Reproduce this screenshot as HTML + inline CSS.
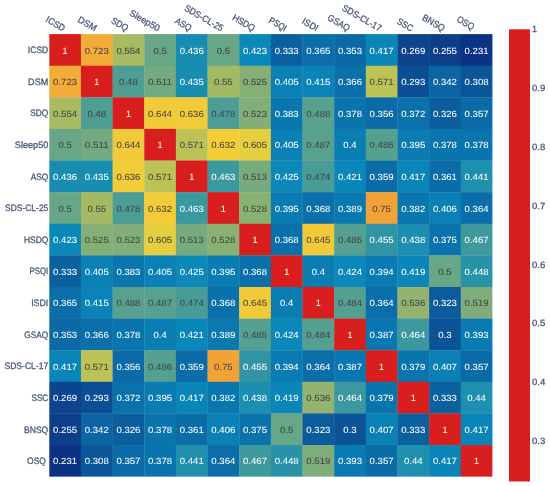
<!DOCTYPE html><html><head><meta charset="utf-8"><style>html,body{margin:0;padding:0;background:#fff;width:550px;height:486px;overflow:hidden}svg{display:block}text{font-family:"Liberation Sans",Arial,sans-serif;text-rendering:geometricPrecision}.lb text{stroke:#4a5a78;stroke-width:0.3px} .ct text{stroke-width:0.05px}</style></head><body>
<svg width="550" height="486" viewBox="0 0 550 486">
<rect x="0" y="0" width="550" height="486" fill="#fff"/>
<rect x="49.30" y="34.10" width="31.95" height="31.91" fill="rgb(217,30,30)"/>
<rect x="80.95" y="34.10" width="31.95" height="31.91" fill="rgb(242,173,56)"/>
<rect x="112.60" y="34.10" width="31.95" height="31.91" fill="rgb(168,187,98)"/>
<rect x="144.25" y="34.10" width="31.95" height="31.91" fill="rgb(103,166,134)"/>
<rect x="175.90" y="34.10" width="31.95" height="31.91" fill="rgb(25,141,177)"/>
<rect x="207.55" y="34.10" width="31.95" height="31.91" fill="rgb(103,166,134)"/>
<rect x="239.20" y="34.10" width="31.95" height="31.91" fill="rgb(10,136,186)"/>
<rect x="270.85" y="34.10" width="31.95" height="31.91" fill="rgb(11,96,160)"/>
<rect x="302.50" y="34.10" width="31.95" height="31.91" fill="rgb(11,110,169)"/>
<rect x="334.15" y="34.10" width="31.95" height="31.91" fill="rgb(11,105,166)"/>
<rect x="365.80" y="34.10" width="31.95" height="31.91" fill="rgb(10,133,184)"/>
<rect x="397.45" y="34.10" width="31.95" height="31.91" fill="rgb(12,68,142)"/>
<rect x="429.10" y="34.10" width="31.95" height="31.91" fill="rgb(12,62,138)"/>
<rect x="460.75" y="34.10" width="31.65" height="31.91" fill="rgb(12,51,131)"/>
<rect x="49.30" y="65.71" width="31.95" height="31.91" fill="rgb(242,173,56)"/>
<rect x="80.95" y="65.71" width="31.95" height="31.91" fill="rgb(217,30,30)"/>
<rect x="112.60" y="65.71" width="31.95" height="31.91" fill="rgb(78,158,148)"/>
<rect x="144.25" y="65.71" width="31.95" height="31.91" fill="rgb(116,170,127)"/>
<rect x="175.90" y="65.71" width="31.95" height="31.91" fill="rgb(24,141,178)"/>
<rect x="207.55" y="65.71" width="31.95" height="31.91" fill="rgb(163,185,100)"/>
<rect x="239.20" y="65.71" width="31.95" height="31.91" fill="rgb(133,176,117)"/>
<rect x="270.85" y="65.71" width="31.95" height="31.91" fill="rgb(10,128,181)"/>
<rect x="302.50" y="65.71" width="31.95" height="31.91" fill="rgb(10,132,184)"/>
<rect x="334.15" y="65.71" width="31.95" height="31.91" fill="rgb(11,111,170)"/>
<rect x="365.80" y="65.71" width="31.95" height="31.91" fill="rgb(188,194,86)"/>
<rect x="397.45" y="65.71" width="31.95" height="31.91" fill="rgb(11,78,149)"/>
<rect x="429.10" y="65.71" width="31.95" height="31.91" fill="rgb(11,100,163)"/>
<rect x="460.75" y="65.71" width="31.65" height="31.91" fill="rgb(11,85,153)"/>
<rect x="49.30" y="97.32" width="31.95" height="31.91" fill="rgb(168,187,98)"/>
<rect x="80.95" y="97.32" width="31.95" height="31.91" fill="rgb(78,158,148)"/>
<rect x="112.60" y="97.32" width="31.95" height="31.91" fill="rgb(217,30,30)"/>
<rect x="144.25" y="97.32" width="31.95" height="31.91" fill="rgb(242,201,56)"/>
<rect x="175.90" y="97.32" width="31.95" height="31.91" fill="rgb(242,204,56)"/>
<rect x="207.55" y="97.32" width="31.95" height="31.91" fill="rgb(76,157,149)"/>
<rect x="239.20" y="97.32" width="31.95" height="31.91" fill="rgb(130,175,119)"/>
<rect x="270.85" y="97.32" width="31.95" height="31.91" fill="rgb(10,118,174)"/>
<rect x="302.50" y="97.32" width="31.95" height="31.91" fill="rgb(88,161,142)"/>
<rect x="334.15" y="97.32" width="31.95" height="31.91" fill="rgb(10,116,173)"/>
<rect x="365.80" y="97.32" width="31.95" height="31.91" fill="rgb(11,106,167)"/>
<rect x="397.45" y="97.32" width="31.95" height="31.91" fill="rgb(11,113,171)"/>
<rect x="429.10" y="97.32" width="31.95" height="31.91" fill="rgb(11,93,158)"/>
<rect x="460.75" y="97.32" width="31.65" height="31.91" fill="rgb(11,107,167)"/>
<rect x="49.30" y="128.93" width="31.95" height="31.91" fill="rgb(103,166,134)"/>
<rect x="80.95" y="128.93" width="31.95" height="31.91" fill="rgb(116,170,127)"/>
<rect x="112.60" y="128.93" width="31.95" height="31.91" fill="rgb(242,201,56)"/>
<rect x="144.25" y="128.93" width="31.95" height="31.91" fill="rgb(217,30,30)"/>
<rect x="175.90" y="128.93" width="31.95" height="31.91" fill="rgb(188,194,86)"/>
<rect x="207.55" y="128.93" width="31.95" height="31.91" fill="rgb(242,205,56)"/>
<rect x="239.20" y="128.93" width="31.95" height="31.91" fill="rgb(229,207,63)"/>
<rect x="270.85" y="128.93" width="31.95" height="31.91" fill="rgb(10,128,181)"/>
<rect x="302.50" y="128.93" width="31.95" height="31.91" fill="rgb(87,161,143)"/>
<rect x="334.15" y="128.93" width="31.95" height="31.91" fill="rgb(10,126,179)"/>
<rect x="365.80" y="128.93" width="31.95" height="31.91" fill="rgb(86,160,144)"/>
<rect x="397.45" y="128.93" width="31.95" height="31.91" fill="rgb(10,124,178)"/>
<rect x="429.10" y="128.93" width="31.95" height="31.91" fill="rgb(10,116,173)"/>
<rect x="460.75" y="128.93" width="31.65" height="31.91" fill="rgb(10,116,173)"/>
<rect x="49.30" y="160.54" width="31.95" height="31.91" fill="rgb(25,141,177)"/>
<rect x="80.95" y="160.54" width="31.95" height="31.91" fill="rgb(24,141,178)"/>
<rect x="112.60" y="160.54" width="31.95" height="31.91" fill="rgb(242,204,56)"/>
<rect x="144.25" y="160.54" width="31.95" height="31.91" fill="rgb(188,194,86)"/>
<rect x="175.90" y="160.54" width="31.95" height="31.91" fill="rgb(217,30,30)"/>
<rect x="207.55" y="160.54" width="31.95" height="31.91" fill="rgb(58,152,159)"/>
<rect x="239.20" y="160.54" width="31.95" height="31.91" fill="rgb(118,171,125)"/>
<rect x="270.85" y="160.54" width="31.95" height="31.91" fill="rgb(12,137,185)"/>
<rect x="302.50" y="160.54" width="31.95" height="31.91" fill="rgb(71,156,152)"/>
<rect x="334.15" y="160.54" width="31.95" height="31.91" fill="rgb(10,135,185)"/>
<rect x="365.80" y="160.54" width="31.95" height="31.91" fill="rgb(11,108,168)"/>
<rect x="397.45" y="160.54" width="31.95" height="31.91" fill="rgb(10,133,184)"/>
<rect x="429.10" y="160.54" width="31.95" height="31.91" fill="rgb(11,108,168)"/>
<rect x="460.75" y="160.54" width="31.65" height="31.91" fill="rgb(31,143,174)"/>
<rect x="49.30" y="192.15" width="31.95" height="31.91" fill="rgb(103,166,134)"/>
<rect x="80.95" y="192.15" width="31.95" height="31.91" fill="rgb(163,185,100)"/>
<rect x="112.60" y="192.15" width="31.95" height="31.91" fill="rgb(76,157,149)"/>
<rect x="144.25" y="192.15" width="31.95" height="31.91" fill="rgb(242,205,56)"/>
<rect x="175.90" y="192.15" width="31.95" height="31.91" fill="rgb(58,152,159)"/>
<rect x="207.55" y="192.15" width="31.95" height="31.91" fill="rgb(217,30,30)"/>
<rect x="239.20" y="192.15" width="31.95" height="31.91" fill="rgb(136,177,115)"/>
<rect x="270.85" y="192.15" width="31.95" height="31.91" fill="rgb(10,124,178)"/>
<rect x="302.50" y="192.15" width="31.95" height="31.91" fill="rgb(11,112,170)"/>
<rect x="334.15" y="192.15" width="31.95" height="31.91" fill="rgb(10,121,176)"/>
<rect x="365.80" y="192.15" width="31.95" height="31.91" fill="rgb(242,163,56)"/>
<rect x="397.45" y="192.15" width="31.95" height="31.91" fill="rgb(10,118,174)"/>
<rect x="429.10" y="192.15" width="31.95" height="31.91" fill="rgb(10,128,181)"/>
<rect x="460.75" y="192.15" width="31.65" height="31.91" fill="rgb(11,110,169)"/>
<rect x="49.30" y="223.76" width="31.95" height="31.91" fill="rgb(10,136,186)"/>
<rect x="80.95" y="223.76" width="31.95" height="31.91" fill="rgb(133,176,117)"/>
<rect x="112.60" y="223.76" width="31.95" height="31.91" fill="rgb(130,175,119)"/>
<rect x="144.25" y="223.76" width="31.95" height="31.91" fill="rgb(229,207,63)"/>
<rect x="175.90" y="223.76" width="31.95" height="31.91" fill="rgb(118,171,125)"/>
<rect x="207.55" y="223.76" width="31.95" height="31.91" fill="rgb(136,177,115)"/>
<rect x="239.20" y="223.76" width="31.95" height="31.91" fill="rgb(217,30,30)"/>
<rect x="270.85" y="223.76" width="31.95" height="31.91" fill="rgb(11,112,170)"/>
<rect x="302.50" y="223.76" width="31.95" height="31.91" fill="rgb(242,201,56)"/>
<rect x="334.15" y="223.76" width="31.95" height="31.91" fill="rgb(85,160,144)"/>
<rect x="365.80" y="223.76" width="31.95" height="31.91" fill="rgb(48,148,165)"/>
<rect x="397.45" y="223.76" width="31.95" height="31.91" fill="rgb(28,142,176)"/>
<rect x="429.10" y="223.76" width="31.95" height="31.91" fill="rgb(11,115,172)"/>
<rect x="460.75" y="223.76" width="31.65" height="31.91" fill="rgb(63,153,156)"/>
<rect x="49.30" y="255.37" width="31.95" height="31.91" fill="rgb(11,96,160)"/>
<rect x="80.95" y="255.37" width="31.95" height="31.91" fill="rgb(10,128,181)"/>
<rect x="112.60" y="255.37" width="31.95" height="31.91" fill="rgb(10,118,174)"/>
<rect x="144.25" y="255.37" width="31.95" height="31.91" fill="rgb(10,128,181)"/>
<rect x="175.90" y="255.37" width="31.95" height="31.91" fill="rgb(12,137,185)"/>
<rect x="207.55" y="255.37" width="31.95" height="31.91" fill="rgb(10,124,178)"/>
<rect x="239.20" y="255.37" width="31.95" height="31.91" fill="rgb(11,112,170)"/>
<rect x="270.85" y="255.37" width="31.95" height="31.91" fill="rgb(217,30,30)"/>
<rect x="302.50" y="255.37" width="31.95" height="31.91" fill="rgb(10,126,179)"/>
<rect x="334.15" y="255.37" width="31.95" height="31.91" fill="rgb(11,136,185)"/>
<rect x="365.80" y="255.37" width="31.95" height="31.91" fill="rgb(10,123,178)"/>
<rect x="397.45" y="255.37" width="31.95" height="31.91" fill="rgb(10,134,185)"/>
<rect x="429.10" y="255.37" width="31.95" height="31.91" fill="rgb(103,166,134)"/>
<rect x="460.75" y="255.37" width="31.65" height="31.91" fill="rgb(40,146,169)"/>
<rect x="49.30" y="286.98" width="31.95" height="31.91" fill="rgb(11,110,169)"/>
<rect x="80.95" y="286.98" width="31.95" height="31.91" fill="rgb(10,132,184)"/>
<rect x="112.60" y="286.98" width="31.95" height="31.91" fill="rgb(88,161,142)"/>
<rect x="144.25" y="286.98" width="31.95" height="31.91" fill="rgb(87,161,143)"/>
<rect x="175.90" y="286.98" width="31.95" height="31.91" fill="rgb(71,156,152)"/>
<rect x="207.55" y="286.98" width="31.95" height="31.91" fill="rgb(11,112,170)"/>
<rect x="239.20" y="286.98" width="31.95" height="31.91" fill="rgb(242,201,56)"/>
<rect x="270.85" y="286.98" width="31.95" height="31.91" fill="rgb(10,126,179)"/>
<rect x="302.50" y="286.98" width="31.95" height="31.91" fill="rgb(217,30,30)"/>
<rect x="334.15" y="286.98" width="31.95" height="31.91" fill="rgb(83,160,145)"/>
<rect x="365.80" y="286.98" width="31.95" height="31.91" fill="rgb(11,110,169)"/>
<rect x="397.45" y="286.98" width="31.95" height="31.91" fill="rgb(146,180,110)"/>
<rect x="429.10" y="286.98" width="31.95" height="31.91" fill="rgb(11,92,157)"/>
<rect x="460.75" y="286.98" width="31.65" height="31.91" fill="rgb(126,173,121)"/>
<rect x="49.30" y="318.59" width="31.95" height="31.91" fill="rgb(11,105,166)"/>
<rect x="80.95" y="318.59" width="31.95" height="31.91" fill="rgb(11,111,170)"/>
<rect x="112.60" y="318.59" width="31.95" height="31.91" fill="rgb(10,116,173)"/>
<rect x="144.25" y="318.59" width="31.95" height="31.91" fill="rgb(10,126,179)"/>
<rect x="175.90" y="318.59" width="31.95" height="31.91" fill="rgb(10,135,185)"/>
<rect x="207.55" y="318.59" width="31.95" height="31.91" fill="rgb(10,121,176)"/>
<rect x="239.20" y="318.59" width="31.95" height="31.91" fill="rgb(85,160,144)"/>
<rect x="270.85" y="318.59" width="31.95" height="31.91" fill="rgb(11,136,185)"/>
<rect x="302.50" y="318.59" width="31.95" height="31.91" fill="rgb(83,160,145)"/>
<rect x="334.15" y="318.59" width="31.95" height="31.91" fill="rgb(217,30,30)"/>
<rect x="365.80" y="318.59" width="31.95" height="31.91" fill="rgb(10,120,176)"/>
<rect x="397.45" y="318.59" width="31.95" height="31.91" fill="rgb(59,152,158)"/>
<rect x="429.10" y="318.59" width="31.95" height="31.91" fill="rgb(11,82,151)"/>
<rect x="460.75" y="318.59" width="31.65" height="31.91" fill="rgb(10,123,177)"/>
<rect x="49.30" y="350.20" width="31.95" height="31.91" fill="rgb(10,133,184)"/>
<rect x="80.95" y="350.20" width="31.95" height="31.91" fill="rgb(188,194,86)"/>
<rect x="112.60" y="350.20" width="31.95" height="31.91" fill="rgb(11,106,167)"/>
<rect x="144.25" y="350.20" width="31.95" height="31.91" fill="rgb(86,160,144)"/>
<rect x="175.90" y="350.20" width="31.95" height="31.91" fill="rgb(11,108,168)"/>
<rect x="207.55" y="350.20" width="31.95" height="31.91" fill="rgb(242,163,56)"/>
<rect x="239.20" y="350.20" width="31.95" height="31.91" fill="rgb(48,148,165)"/>
<rect x="270.85" y="350.20" width="31.95" height="31.91" fill="rgb(10,123,178)"/>
<rect x="302.50" y="350.20" width="31.95" height="31.91" fill="rgb(11,110,169)"/>
<rect x="334.15" y="350.20" width="31.95" height="31.91" fill="rgb(10,120,176)"/>
<rect x="365.80" y="350.20" width="31.95" height="31.91" fill="rgb(217,30,30)"/>
<rect x="397.45" y="350.20" width="31.95" height="31.91" fill="rgb(10,116,173)"/>
<rect x="429.10" y="350.20" width="31.95" height="31.91" fill="rgb(10,129,181)"/>
<rect x="460.75" y="350.20" width="31.65" height="31.91" fill="rgb(11,107,167)"/>
<rect x="49.30" y="381.81" width="31.95" height="31.91" fill="rgb(12,68,142)"/>
<rect x="80.95" y="381.81" width="31.95" height="31.91" fill="rgb(11,78,149)"/>
<rect x="112.60" y="381.81" width="31.95" height="31.91" fill="rgb(11,113,171)"/>
<rect x="144.25" y="381.81" width="31.95" height="31.91" fill="rgb(10,124,178)"/>
<rect x="175.90" y="381.81" width="31.95" height="31.91" fill="rgb(10,133,184)"/>
<rect x="207.55" y="381.81" width="31.95" height="31.91" fill="rgb(10,118,174)"/>
<rect x="239.20" y="381.81" width="31.95" height="31.91" fill="rgb(28,142,176)"/>
<rect x="270.85" y="381.81" width="31.95" height="31.91" fill="rgb(10,134,185)"/>
<rect x="302.50" y="381.81" width="31.95" height="31.91" fill="rgb(146,180,110)"/>
<rect x="334.15" y="381.81" width="31.95" height="31.91" fill="rgb(59,152,158)"/>
<rect x="365.80" y="381.81" width="31.95" height="31.91" fill="rgb(10,116,173)"/>
<rect x="397.45" y="381.81" width="31.95" height="31.91" fill="rgb(217,30,30)"/>
<rect x="429.10" y="381.81" width="31.95" height="31.91" fill="rgb(11,96,160)"/>
<rect x="460.75" y="381.81" width="31.65" height="31.91" fill="rgb(30,143,175)"/>
<rect x="49.30" y="413.42" width="31.95" height="31.91" fill="rgb(12,62,138)"/>
<rect x="80.95" y="413.42" width="31.95" height="31.91" fill="rgb(11,100,163)"/>
<rect x="112.60" y="413.42" width="31.95" height="31.91" fill="rgb(11,93,158)"/>
<rect x="144.25" y="413.42" width="31.95" height="31.91" fill="rgb(10,116,173)"/>
<rect x="175.90" y="413.42" width="31.95" height="31.91" fill="rgb(11,108,168)"/>
<rect x="207.55" y="413.42" width="31.95" height="31.91" fill="rgb(10,128,181)"/>
<rect x="239.20" y="413.42" width="31.95" height="31.91" fill="rgb(11,115,172)"/>
<rect x="270.85" y="413.42" width="31.95" height="31.91" fill="rgb(103,166,134)"/>
<rect x="302.50" y="413.42" width="31.95" height="31.91" fill="rgb(11,92,157)"/>
<rect x="334.15" y="413.42" width="31.95" height="31.91" fill="rgb(11,82,151)"/>
<rect x="365.80" y="413.42" width="31.95" height="31.91" fill="rgb(10,129,181)"/>
<rect x="397.45" y="413.42" width="31.95" height="31.91" fill="rgb(11,96,160)"/>
<rect x="429.10" y="413.42" width="31.95" height="31.91" fill="rgb(217,30,30)"/>
<rect x="460.75" y="413.42" width="31.65" height="31.91" fill="rgb(10,133,184)"/>
<rect x="49.30" y="445.03" width="31.95" height="31.61" fill="rgb(12,51,131)"/>
<rect x="80.95" y="445.03" width="31.95" height="31.61" fill="rgb(11,85,153)"/>
<rect x="112.60" y="445.03" width="31.95" height="31.61" fill="rgb(11,107,167)"/>
<rect x="144.25" y="445.03" width="31.95" height="31.61" fill="rgb(10,116,173)"/>
<rect x="175.90" y="445.03" width="31.95" height="31.61" fill="rgb(31,143,174)"/>
<rect x="207.55" y="445.03" width="31.95" height="31.61" fill="rgb(11,110,169)"/>
<rect x="239.20" y="445.03" width="31.95" height="31.61" fill="rgb(63,153,156)"/>
<rect x="270.85" y="445.03" width="31.95" height="31.61" fill="rgb(40,146,169)"/>
<rect x="302.50" y="445.03" width="31.95" height="31.61" fill="rgb(126,173,121)"/>
<rect x="334.15" y="445.03" width="31.95" height="31.61" fill="rgb(10,123,177)"/>
<rect x="365.80" y="445.03" width="31.95" height="31.61" fill="rgb(11,107,167)"/>
<rect x="397.45" y="445.03" width="31.95" height="31.61" fill="rgb(30,143,175)"/>
<rect x="429.10" y="445.03" width="31.95" height="31.61" fill="rgb(10,133,184)"/>
<rect x="460.75" y="445.03" width="31.65" height="31.61" fill="rgb(217,30,30)"/>
<g class="ct" font-size="9.0" text-anchor="middle" >
<text x="65.12" y="53.51" fill="#fff" stroke="#fff">1</text>
<text x="96.77" y="53.51" fill="#444" stroke="#444" textLength="24.00" lengthAdjust="spacingAndGlyphs">0.723</text>
<text x="128.43" y="53.51" fill="#444" stroke="#444" textLength="24.00" lengthAdjust="spacingAndGlyphs">0.554</text>
<text x="160.07" y="53.51" fill="#444" stroke="#444" textLength="13.25" lengthAdjust="spacingAndGlyphs">0.5</text>
<text x="191.72" y="53.51" fill="#fff" stroke="#fff" textLength="24.00" lengthAdjust="spacingAndGlyphs">0.436</text>
<text x="223.38" y="53.51" fill="#444" stroke="#444" textLength="13.25" lengthAdjust="spacingAndGlyphs">0.5</text>
<text x="255.02" y="53.51" fill="#fff" stroke="#fff" textLength="24.00" lengthAdjust="spacingAndGlyphs">0.423</text>
<text x="286.68" y="53.51" fill="#fff" stroke="#fff" textLength="24.00" lengthAdjust="spacingAndGlyphs">0.333</text>
<text x="318.32" y="53.51" fill="#fff" stroke="#fff" textLength="24.00" lengthAdjust="spacingAndGlyphs">0.365</text>
<text x="349.98" y="53.51" fill="#fff" stroke="#fff" textLength="24.00" lengthAdjust="spacingAndGlyphs">0.353</text>
<text x="381.62" y="53.51" fill="#fff" stroke="#fff" textLength="24.00" lengthAdjust="spacingAndGlyphs">0.417</text>
<text x="413.27" y="53.51" fill="#fff" stroke="#fff" textLength="24.00" lengthAdjust="spacingAndGlyphs">0.269</text>
<text x="444.93" y="53.51" fill="#fff" stroke="#fff" textLength="24.00" lengthAdjust="spacingAndGlyphs">0.255</text>
<text x="476.57" y="53.51" fill="#fff" stroke="#fff" textLength="24.00" lengthAdjust="spacingAndGlyphs">0.231</text>
<text x="65.12" y="85.11" fill="#444" stroke="#444" textLength="24.00" lengthAdjust="spacingAndGlyphs">0.723</text>
<text x="96.77" y="85.11" fill="#fff" stroke="#fff">1</text>
<text x="128.43" y="85.11" fill="#444" stroke="#444" textLength="18.63" lengthAdjust="spacingAndGlyphs">0.48</text>
<text x="160.07" y="85.11" fill="#444" stroke="#444" textLength="24.00" lengthAdjust="spacingAndGlyphs">0.511</text>
<text x="191.72" y="85.11" fill="#fff" stroke="#fff" textLength="24.00" lengthAdjust="spacingAndGlyphs">0.435</text>
<text x="223.38" y="85.11" fill="#444" stroke="#444" textLength="18.63" lengthAdjust="spacingAndGlyphs">0.55</text>
<text x="255.02" y="85.11" fill="#444" stroke="#444" textLength="24.00" lengthAdjust="spacingAndGlyphs">0.525</text>
<text x="286.68" y="85.11" fill="#fff" stroke="#fff" textLength="24.00" lengthAdjust="spacingAndGlyphs">0.405</text>
<text x="318.32" y="85.11" fill="#fff" stroke="#fff" textLength="24.00" lengthAdjust="spacingAndGlyphs">0.415</text>
<text x="349.98" y="85.11" fill="#fff" stroke="#fff" textLength="24.00" lengthAdjust="spacingAndGlyphs">0.366</text>
<text x="381.62" y="85.11" fill="#444" stroke="#444" textLength="24.00" lengthAdjust="spacingAndGlyphs">0.571</text>
<text x="413.27" y="85.11" fill="#fff" stroke="#fff" textLength="24.00" lengthAdjust="spacingAndGlyphs">0.293</text>
<text x="444.93" y="85.11" fill="#fff" stroke="#fff" textLength="24.00" lengthAdjust="spacingAndGlyphs">0.342</text>
<text x="476.57" y="85.11" fill="#fff" stroke="#fff" textLength="24.00" lengthAdjust="spacingAndGlyphs">0.308</text>
<text x="65.12" y="116.72" fill="#444" stroke="#444" textLength="24.00" lengthAdjust="spacingAndGlyphs">0.554</text>
<text x="96.77" y="116.72" fill="#444" stroke="#444" textLength="18.63" lengthAdjust="spacingAndGlyphs">0.48</text>
<text x="128.43" y="116.72" fill="#fff" stroke="#fff">1</text>
<text x="160.07" y="116.72" fill="#444" stroke="#444" textLength="24.00" lengthAdjust="spacingAndGlyphs">0.644</text>
<text x="191.72" y="116.72" fill="#444" stroke="#444" textLength="24.00" lengthAdjust="spacingAndGlyphs">0.636</text>
<text x="223.38" y="116.72" fill="#444" stroke="#444" textLength="24.00" lengthAdjust="spacingAndGlyphs">0.478</text>
<text x="255.02" y="116.72" fill="#444" stroke="#444" textLength="24.00" lengthAdjust="spacingAndGlyphs">0.523</text>
<text x="286.68" y="116.72" fill="#fff" stroke="#fff" textLength="24.00" lengthAdjust="spacingAndGlyphs">0.383</text>
<text x="318.32" y="116.72" fill="#444" stroke="#444" textLength="24.00" lengthAdjust="spacingAndGlyphs">0.488</text>
<text x="349.98" y="116.72" fill="#fff" stroke="#fff" textLength="24.00" lengthAdjust="spacingAndGlyphs">0.378</text>
<text x="381.62" y="116.72" fill="#fff" stroke="#fff" textLength="24.00" lengthAdjust="spacingAndGlyphs">0.356</text>
<text x="413.27" y="116.72" fill="#fff" stroke="#fff" textLength="24.00" lengthAdjust="spacingAndGlyphs">0.372</text>
<text x="444.93" y="116.72" fill="#fff" stroke="#fff" textLength="24.00" lengthAdjust="spacingAndGlyphs">0.326</text>
<text x="476.57" y="116.72" fill="#fff" stroke="#fff" textLength="24.00" lengthAdjust="spacingAndGlyphs">0.357</text>
<text x="65.12" y="148.33" fill="#444" stroke="#444" textLength="13.25" lengthAdjust="spacingAndGlyphs">0.5</text>
<text x="96.77" y="148.33" fill="#444" stroke="#444" textLength="24.00" lengthAdjust="spacingAndGlyphs">0.511</text>
<text x="128.43" y="148.33" fill="#444" stroke="#444" textLength="24.00" lengthAdjust="spacingAndGlyphs">0.644</text>
<text x="160.07" y="148.33" fill="#fff" stroke="#fff">1</text>
<text x="191.72" y="148.33" fill="#444" stroke="#444" textLength="24.00" lengthAdjust="spacingAndGlyphs">0.571</text>
<text x="223.38" y="148.33" fill="#444" stroke="#444" textLength="24.00" lengthAdjust="spacingAndGlyphs">0.632</text>
<text x="255.02" y="148.33" fill="#444" stroke="#444" textLength="24.00" lengthAdjust="spacingAndGlyphs">0.605</text>
<text x="286.68" y="148.33" fill="#fff" stroke="#fff" textLength="24.00" lengthAdjust="spacingAndGlyphs">0.405</text>
<text x="318.32" y="148.33" fill="#444" stroke="#444" textLength="24.00" lengthAdjust="spacingAndGlyphs">0.487</text>
<text x="349.98" y="148.33" fill="#fff" stroke="#fff" textLength="13.25" lengthAdjust="spacingAndGlyphs">0.4</text>
<text x="381.62" y="148.33" fill="#444" stroke="#444" textLength="24.00" lengthAdjust="spacingAndGlyphs">0.486</text>
<text x="413.27" y="148.33" fill="#fff" stroke="#fff" textLength="24.00" lengthAdjust="spacingAndGlyphs">0.395</text>
<text x="444.93" y="148.33" fill="#fff" stroke="#fff" textLength="24.00" lengthAdjust="spacingAndGlyphs">0.378</text>
<text x="476.57" y="148.33" fill="#fff" stroke="#fff" textLength="24.00" lengthAdjust="spacingAndGlyphs">0.378</text>
<text x="65.12" y="179.94" fill="#fff" stroke="#fff" textLength="24.00" lengthAdjust="spacingAndGlyphs">0.436</text>
<text x="96.77" y="179.94" fill="#fff" stroke="#fff" textLength="24.00" lengthAdjust="spacingAndGlyphs">0.435</text>
<text x="128.43" y="179.94" fill="#444" stroke="#444" textLength="24.00" lengthAdjust="spacingAndGlyphs">0.636</text>
<text x="160.07" y="179.94" fill="#444" stroke="#444" textLength="24.00" lengthAdjust="spacingAndGlyphs">0.571</text>
<text x="191.72" y="179.94" fill="#fff" stroke="#fff">1</text>
<text x="223.38" y="179.94" fill="#fff" stroke="#fff" textLength="24.00" lengthAdjust="spacingAndGlyphs">0.463</text>
<text x="255.02" y="179.94" fill="#444" stroke="#444" textLength="24.00" lengthAdjust="spacingAndGlyphs">0.513</text>
<text x="286.68" y="179.94" fill="#fff" stroke="#fff" textLength="24.00" lengthAdjust="spacingAndGlyphs">0.425</text>
<text x="318.32" y="179.94" fill="#444" stroke="#444" textLength="24.00" lengthAdjust="spacingAndGlyphs">0.474</text>
<text x="349.98" y="179.94" fill="#fff" stroke="#fff" textLength="24.00" lengthAdjust="spacingAndGlyphs">0.421</text>
<text x="381.62" y="179.94" fill="#fff" stroke="#fff" textLength="24.00" lengthAdjust="spacingAndGlyphs">0.359</text>
<text x="413.27" y="179.94" fill="#fff" stroke="#fff" textLength="24.00" lengthAdjust="spacingAndGlyphs">0.417</text>
<text x="444.93" y="179.94" fill="#fff" stroke="#fff" textLength="24.00" lengthAdjust="spacingAndGlyphs">0.361</text>
<text x="476.57" y="179.94" fill="#fff" stroke="#fff" textLength="24.00" lengthAdjust="spacingAndGlyphs">0.441</text>
<text x="65.12" y="211.55" fill="#444" stroke="#444" textLength="13.25" lengthAdjust="spacingAndGlyphs">0.5</text>
<text x="96.77" y="211.55" fill="#444" stroke="#444" textLength="18.63" lengthAdjust="spacingAndGlyphs">0.55</text>
<text x="128.43" y="211.55" fill="#444" stroke="#444" textLength="24.00" lengthAdjust="spacingAndGlyphs">0.478</text>
<text x="160.07" y="211.55" fill="#444" stroke="#444" textLength="24.00" lengthAdjust="spacingAndGlyphs">0.632</text>
<text x="191.72" y="211.55" fill="#fff" stroke="#fff" textLength="24.00" lengthAdjust="spacingAndGlyphs">0.463</text>
<text x="223.38" y="211.55" fill="#fff" stroke="#fff">1</text>
<text x="255.02" y="211.55" fill="#444" stroke="#444" textLength="24.00" lengthAdjust="spacingAndGlyphs">0.528</text>
<text x="286.68" y="211.55" fill="#fff" stroke="#fff" textLength="24.00" lengthAdjust="spacingAndGlyphs">0.395</text>
<text x="318.32" y="211.55" fill="#fff" stroke="#fff" textLength="24.00" lengthAdjust="spacingAndGlyphs">0.368</text>
<text x="349.98" y="211.55" fill="#fff" stroke="#fff" textLength="24.00" lengthAdjust="spacingAndGlyphs">0.389</text>
<text x="381.62" y="211.55" fill="#444" stroke="#444" textLength="18.63" lengthAdjust="spacingAndGlyphs">0.75</text>
<text x="413.27" y="211.55" fill="#fff" stroke="#fff" textLength="24.00" lengthAdjust="spacingAndGlyphs">0.382</text>
<text x="444.93" y="211.55" fill="#fff" stroke="#fff" textLength="24.00" lengthAdjust="spacingAndGlyphs">0.406</text>
<text x="476.57" y="211.55" fill="#fff" stroke="#fff" textLength="24.00" lengthAdjust="spacingAndGlyphs">0.364</text>
<text x="65.12" y="243.16" fill="#fff" stroke="#fff" textLength="24.00" lengthAdjust="spacingAndGlyphs">0.423</text>
<text x="96.77" y="243.16" fill="#444" stroke="#444" textLength="24.00" lengthAdjust="spacingAndGlyphs">0.525</text>
<text x="128.43" y="243.16" fill="#444" stroke="#444" textLength="24.00" lengthAdjust="spacingAndGlyphs">0.523</text>
<text x="160.07" y="243.16" fill="#444" stroke="#444" textLength="24.00" lengthAdjust="spacingAndGlyphs">0.605</text>
<text x="191.72" y="243.16" fill="#444" stroke="#444" textLength="24.00" lengthAdjust="spacingAndGlyphs">0.513</text>
<text x="223.38" y="243.16" fill="#444" stroke="#444" textLength="24.00" lengthAdjust="spacingAndGlyphs">0.528</text>
<text x="255.02" y="243.16" fill="#fff" stroke="#fff">1</text>
<text x="286.68" y="243.16" fill="#fff" stroke="#fff" textLength="24.00" lengthAdjust="spacingAndGlyphs">0.368</text>
<text x="318.32" y="243.16" fill="#444" stroke="#444" textLength="24.00" lengthAdjust="spacingAndGlyphs">0.645</text>
<text x="349.98" y="243.16" fill="#444" stroke="#444" textLength="24.00" lengthAdjust="spacingAndGlyphs">0.485</text>
<text x="381.62" y="243.16" fill="#fff" stroke="#fff" textLength="24.00" lengthAdjust="spacingAndGlyphs">0.455</text>
<text x="413.27" y="243.16" fill="#fff" stroke="#fff" textLength="24.00" lengthAdjust="spacingAndGlyphs">0.438</text>
<text x="444.93" y="243.16" fill="#fff" stroke="#fff" textLength="24.00" lengthAdjust="spacingAndGlyphs">0.375</text>
<text x="476.57" y="243.16" fill="#fff" stroke="#fff" textLength="24.00" lengthAdjust="spacingAndGlyphs">0.467</text>
<text x="65.12" y="274.78" fill="#fff" stroke="#fff" textLength="24.00" lengthAdjust="spacingAndGlyphs">0.333</text>
<text x="96.77" y="274.78" fill="#fff" stroke="#fff" textLength="24.00" lengthAdjust="spacingAndGlyphs">0.405</text>
<text x="128.43" y="274.78" fill="#fff" stroke="#fff" textLength="24.00" lengthAdjust="spacingAndGlyphs">0.383</text>
<text x="160.07" y="274.78" fill="#fff" stroke="#fff" textLength="24.00" lengthAdjust="spacingAndGlyphs">0.405</text>
<text x="191.72" y="274.78" fill="#fff" stroke="#fff" textLength="24.00" lengthAdjust="spacingAndGlyphs">0.425</text>
<text x="223.38" y="274.78" fill="#fff" stroke="#fff" textLength="24.00" lengthAdjust="spacingAndGlyphs">0.395</text>
<text x="255.02" y="274.78" fill="#fff" stroke="#fff" textLength="24.00" lengthAdjust="spacingAndGlyphs">0.368</text>
<text x="286.68" y="274.78" fill="#fff" stroke="#fff">1</text>
<text x="318.32" y="274.78" fill="#fff" stroke="#fff" textLength="13.25" lengthAdjust="spacingAndGlyphs">0.4</text>
<text x="349.98" y="274.78" fill="#fff" stroke="#fff" textLength="24.00" lengthAdjust="spacingAndGlyphs">0.424</text>
<text x="381.62" y="274.78" fill="#fff" stroke="#fff" textLength="24.00" lengthAdjust="spacingAndGlyphs">0.394</text>
<text x="413.27" y="274.78" fill="#fff" stroke="#fff" textLength="24.00" lengthAdjust="spacingAndGlyphs">0.419</text>
<text x="444.93" y="274.78" fill="#444" stroke="#444" textLength="13.25" lengthAdjust="spacingAndGlyphs">0.5</text>
<text x="476.57" y="274.78" fill="#fff" stroke="#fff" textLength="24.00" lengthAdjust="spacingAndGlyphs">0.448</text>
<text x="65.12" y="306.39" fill="#fff" stroke="#fff" textLength="24.00" lengthAdjust="spacingAndGlyphs">0.365</text>
<text x="96.77" y="306.39" fill="#fff" stroke="#fff" textLength="24.00" lengthAdjust="spacingAndGlyphs">0.415</text>
<text x="128.43" y="306.39" fill="#444" stroke="#444" textLength="24.00" lengthAdjust="spacingAndGlyphs">0.488</text>
<text x="160.07" y="306.39" fill="#444" stroke="#444" textLength="24.00" lengthAdjust="spacingAndGlyphs">0.487</text>
<text x="191.72" y="306.39" fill="#444" stroke="#444" textLength="24.00" lengthAdjust="spacingAndGlyphs">0.474</text>
<text x="223.38" y="306.39" fill="#fff" stroke="#fff" textLength="24.00" lengthAdjust="spacingAndGlyphs">0.368</text>
<text x="255.02" y="306.39" fill="#444" stroke="#444" textLength="24.00" lengthAdjust="spacingAndGlyphs">0.645</text>
<text x="286.68" y="306.39" fill="#fff" stroke="#fff" textLength="13.25" lengthAdjust="spacingAndGlyphs">0.4</text>
<text x="318.32" y="306.39" fill="#fff" stroke="#fff">1</text>
<text x="349.98" y="306.39" fill="#444" stroke="#444" textLength="24.00" lengthAdjust="spacingAndGlyphs">0.484</text>
<text x="381.62" y="306.39" fill="#fff" stroke="#fff" textLength="24.00" lengthAdjust="spacingAndGlyphs">0.364</text>
<text x="413.27" y="306.39" fill="#444" stroke="#444" textLength="24.00" lengthAdjust="spacingAndGlyphs">0.536</text>
<text x="444.93" y="306.39" fill="#fff" stroke="#fff" textLength="24.00" lengthAdjust="spacingAndGlyphs">0.323</text>
<text x="476.57" y="306.39" fill="#444" stroke="#444" textLength="24.00" lengthAdjust="spacingAndGlyphs">0.519</text>
<text x="65.12" y="338.00" fill="#fff" stroke="#fff" textLength="24.00" lengthAdjust="spacingAndGlyphs">0.353</text>
<text x="96.77" y="338.00" fill="#fff" stroke="#fff" textLength="24.00" lengthAdjust="spacingAndGlyphs">0.366</text>
<text x="128.43" y="338.00" fill="#fff" stroke="#fff" textLength="24.00" lengthAdjust="spacingAndGlyphs">0.378</text>
<text x="160.07" y="338.00" fill="#fff" stroke="#fff" textLength="13.25" lengthAdjust="spacingAndGlyphs">0.4</text>
<text x="191.72" y="338.00" fill="#fff" stroke="#fff" textLength="24.00" lengthAdjust="spacingAndGlyphs">0.421</text>
<text x="223.38" y="338.00" fill="#fff" stroke="#fff" textLength="24.00" lengthAdjust="spacingAndGlyphs">0.389</text>
<text x="255.02" y="338.00" fill="#444" stroke="#444" textLength="24.00" lengthAdjust="spacingAndGlyphs">0.485</text>
<text x="286.68" y="338.00" fill="#fff" stroke="#fff" textLength="24.00" lengthAdjust="spacingAndGlyphs">0.424</text>
<text x="318.32" y="338.00" fill="#444" stroke="#444" textLength="24.00" lengthAdjust="spacingAndGlyphs">0.484</text>
<text x="349.98" y="338.00" fill="#fff" stroke="#fff">1</text>
<text x="381.62" y="338.00" fill="#fff" stroke="#fff" textLength="24.00" lengthAdjust="spacingAndGlyphs">0.387</text>
<text x="413.27" y="338.00" fill="#fff" stroke="#fff" textLength="24.00" lengthAdjust="spacingAndGlyphs">0.464</text>
<text x="444.93" y="338.00" fill="#fff" stroke="#fff" textLength="13.25" lengthAdjust="spacingAndGlyphs">0.3</text>
<text x="476.57" y="338.00" fill="#fff" stroke="#fff" textLength="24.00" lengthAdjust="spacingAndGlyphs">0.393</text>
<text x="65.12" y="369.61" fill="#fff" stroke="#fff" textLength="24.00" lengthAdjust="spacingAndGlyphs">0.417</text>
<text x="96.77" y="369.61" fill="#444" stroke="#444" textLength="24.00" lengthAdjust="spacingAndGlyphs">0.571</text>
<text x="128.43" y="369.61" fill="#fff" stroke="#fff" textLength="24.00" lengthAdjust="spacingAndGlyphs">0.356</text>
<text x="160.07" y="369.61" fill="#444" stroke="#444" textLength="24.00" lengthAdjust="spacingAndGlyphs">0.486</text>
<text x="191.72" y="369.61" fill="#fff" stroke="#fff" textLength="24.00" lengthAdjust="spacingAndGlyphs">0.359</text>
<text x="223.38" y="369.61" fill="#444" stroke="#444" textLength="18.63" lengthAdjust="spacingAndGlyphs">0.75</text>
<text x="255.02" y="369.61" fill="#fff" stroke="#fff" textLength="24.00" lengthAdjust="spacingAndGlyphs">0.455</text>
<text x="286.68" y="369.61" fill="#fff" stroke="#fff" textLength="24.00" lengthAdjust="spacingAndGlyphs">0.394</text>
<text x="318.32" y="369.61" fill="#fff" stroke="#fff" textLength="24.00" lengthAdjust="spacingAndGlyphs">0.364</text>
<text x="349.98" y="369.61" fill="#fff" stroke="#fff" textLength="24.00" lengthAdjust="spacingAndGlyphs">0.387</text>
<text x="381.62" y="369.61" fill="#fff" stroke="#fff">1</text>
<text x="413.27" y="369.61" fill="#fff" stroke="#fff" textLength="24.00" lengthAdjust="spacingAndGlyphs">0.379</text>
<text x="444.93" y="369.61" fill="#fff" stroke="#fff" textLength="24.00" lengthAdjust="spacingAndGlyphs">0.407</text>
<text x="476.57" y="369.61" fill="#fff" stroke="#fff" textLength="24.00" lengthAdjust="spacingAndGlyphs">0.357</text>
<text x="65.12" y="401.22" fill="#fff" stroke="#fff" textLength="24.00" lengthAdjust="spacingAndGlyphs">0.269</text>
<text x="96.77" y="401.22" fill="#fff" stroke="#fff" textLength="24.00" lengthAdjust="spacingAndGlyphs">0.293</text>
<text x="128.43" y="401.22" fill="#fff" stroke="#fff" textLength="24.00" lengthAdjust="spacingAndGlyphs">0.372</text>
<text x="160.07" y="401.22" fill="#fff" stroke="#fff" textLength="24.00" lengthAdjust="spacingAndGlyphs">0.395</text>
<text x="191.72" y="401.22" fill="#fff" stroke="#fff" textLength="24.00" lengthAdjust="spacingAndGlyphs">0.417</text>
<text x="223.38" y="401.22" fill="#fff" stroke="#fff" textLength="24.00" lengthAdjust="spacingAndGlyphs">0.382</text>
<text x="255.02" y="401.22" fill="#fff" stroke="#fff" textLength="24.00" lengthAdjust="spacingAndGlyphs">0.438</text>
<text x="286.68" y="401.22" fill="#fff" stroke="#fff" textLength="24.00" lengthAdjust="spacingAndGlyphs">0.419</text>
<text x="318.32" y="401.22" fill="#444" stroke="#444" textLength="24.00" lengthAdjust="spacingAndGlyphs">0.536</text>
<text x="349.98" y="401.22" fill="#fff" stroke="#fff" textLength="24.00" lengthAdjust="spacingAndGlyphs">0.464</text>
<text x="381.62" y="401.22" fill="#fff" stroke="#fff" textLength="24.00" lengthAdjust="spacingAndGlyphs">0.379</text>
<text x="413.27" y="401.22" fill="#fff" stroke="#fff">1</text>
<text x="444.93" y="401.22" fill="#fff" stroke="#fff" textLength="24.00" lengthAdjust="spacingAndGlyphs">0.333</text>
<text x="476.57" y="401.22" fill="#fff" stroke="#fff" textLength="18.63" lengthAdjust="spacingAndGlyphs">0.44</text>
<text x="65.12" y="432.83" fill="#fff" stroke="#fff" textLength="24.00" lengthAdjust="spacingAndGlyphs">0.255</text>
<text x="96.77" y="432.83" fill="#fff" stroke="#fff" textLength="24.00" lengthAdjust="spacingAndGlyphs">0.342</text>
<text x="128.43" y="432.83" fill="#fff" stroke="#fff" textLength="24.00" lengthAdjust="spacingAndGlyphs">0.326</text>
<text x="160.07" y="432.83" fill="#fff" stroke="#fff" textLength="24.00" lengthAdjust="spacingAndGlyphs">0.378</text>
<text x="191.72" y="432.83" fill="#fff" stroke="#fff" textLength="24.00" lengthAdjust="spacingAndGlyphs">0.361</text>
<text x="223.38" y="432.83" fill="#fff" stroke="#fff" textLength="24.00" lengthAdjust="spacingAndGlyphs">0.406</text>
<text x="255.02" y="432.83" fill="#fff" stroke="#fff" textLength="24.00" lengthAdjust="spacingAndGlyphs">0.375</text>
<text x="286.68" y="432.83" fill="#444" stroke="#444" textLength="13.25" lengthAdjust="spacingAndGlyphs">0.5</text>
<text x="318.32" y="432.83" fill="#fff" stroke="#fff" textLength="24.00" lengthAdjust="spacingAndGlyphs">0.323</text>
<text x="349.98" y="432.83" fill="#fff" stroke="#fff" textLength="13.25" lengthAdjust="spacingAndGlyphs">0.3</text>
<text x="381.62" y="432.83" fill="#fff" stroke="#fff" textLength="24.00" lengthAdjust="spacingAndGlyphs">0.407</text>
<text x="413.27" y="432.83" fill="#fff" stroke="#fff" textLength="24.00" lengthAdjust="spacingAndGlyphs">0.333</text>
<text x="444.93" y="432.83" fill="#fff" stroke="#fff">1</text>
<text x="476.57" y="432.83" fill="#fff" stroke="#fff" textLength="24.00" lengthAdjust="spacingAndGlyphs">0.417</text>
<text x="65.12" y="464.44" fill="#fff" stroke="#fff" textLength="24.00" lengthAdjust="spacingAndGlyphs">0.231</text>
<text x="96.77" y="464.44" fill="#fff" stroke="#fff" textLength="24.00" lengthAdjust="spacingAndGlyphs">0.308</text>
<text x="128.43" y="464.44" fill="#fff" stroke="#fff" textLength="24.00" lengthAdjust="spacingAndGlyphs">0.357</text>
<text x="160.07" y="464.44" fill="#fff" stroke="#fff" textLength="24.00" lengthAdjust="spacingAndGlyphs">0.378</text>
<text x="191.72" y="464.44" fill="#fff" stroke="#fff" textLength="24.00" lengthAdjust="spacingAndGlyphs">0.441</text>
<text x="223.38" y="464.44" fill="#fff" stroke="#fff" textLength="24.00" lengthAdjust="spacingAndGlyphs">0.364</text>
<text x="255.02" y="464.44" fill="#fff" stroke="#fff" textLength="24.00" lengthAdjust="spacingAndGlyphs">0.467</text>
<text x="286.68" y="464.44" fill="#fff" stroke="#fff" textLength="24.00" lengthAdjust="spacingAndGlyphs">0.448</text>
<text x="318.32" y="464.44" fill="#444" stroke="#444" textLength="24.00" lengthAdjust="spacingAndGlyphs">0.519</text>
<text x="349.98" y="464.44" fill="#fff" stroke="#fff" textLength="24.00" lengthAdjust="spacingAndGlyphs">0.393</text>
<text x="381.62" y="464.44" fill="#fff" stroke="#fff" textLength="24.00" lengthAdjust="spacingAndGlyphs">0.357</text>
<text x="413.27" y="464.44" fill="#fff" stroke="#fff" textLength="18.63" lengthAdjust="spacingAndGlyphs">0.44</text>
<text x="444.93" y="464.44" fill="#fff" stroke="#fff" textLength="24.00" lengthAdjust="spacingAndGlyphs">0.417</text>
<text x="476.57" y="464.44" fill="#fff" stroke="#fff">1</text>
</g>
<g class="lb" font-size="9.3" text-anchor="end" fill="#4a5a78">
<text x="48.30" y="53.20" textLength="20.46" lengthAdjust="spacingAndGlyphs">ICSD</text>
<text x="48.30" y="84.81" textLength="20.18" lengthAdjust="spacingAndGlyphs">DSM</text>
<text x="48.30" y="116.42" textLength="18.05" lengthAdjust="spacingAndGlyphs">SDQ</text>
<text x="48.30" y="148.03" textLength="33.50" lengthAdjust="spacingAndGlyphs">Sleep50</text>
<text x="48.30" y="179.65" textLength="17.55" lengthAdjust="spacingAndGlyphs">ASQ</text>
<text x="48.30" y="211.25" textLength="43.23" lengthAdjust="spacingAndGlyphs">SDS-CL-25</text>
<text x="48.30" y="242.87" textLength="24.32" lengthAdjust="spacingAndGlyphs">HSDQ</text>
<text x="48.30" y="274.48" textLength="18.84" lengthAdjust="spacingAndGlyphs">PSQI</text>
<text x="48.30" y="306.09" textLength="17.16" lengthAdjust="spacingAndGlyphs">ISDI</text>
<text x="48.30" y="337.70" textLength="24.09" lengthAdjust="spacingAndGlyphs">GSAQ</text>
<text x="48.30" y="369.31" textLength="43.85" lengthAdjust="spacingAndGlyphs">SDS-CL-17</text>
<text x="48.30" y="400.92" textLength="16.87" lengthAdjust="spacingAndGlyphs">SSC</text>
<text x="48.30" y="432.53" textLength="24.30" lengthAdjust="spacingAndGlyphs">BNSQ</text>
<text x="45.86" y="464.14" textLength="18.76" lengthAdjust="spacingAndGlyphs">OSQ</text>
</g>
<g class="lb" font-size="9.3" text-anchor="end" fill="#4a5a78">
<text transform="translate(62.83,31.60) rotate(30)" x="0.00" y="0" textLength="20.46" lengthAdjust="spacingAndGlyphs">ICSD</text>
<text transform="translate(94.47,31.60) rotate(30)" x="0.00" y="0" textLength="20.18" lengthAdjust="spacingAndGlyphs">DSM</text>
<text transform="translate(126.13,31.60) rotate(30)" x="0.00" y="0" textLength="18.05" lengthAdjust="spacingAndGlyphs">SDQ</text>
<text transform="translate(157.77,31.60) rotate(30)" x="0.00" y="0" textLength="33.50" lengthAdjust="spacingAndGlyphs">Sleep50</text>
<text transform="translate(189.42,31.60) rotate(30)" x="0.00" y="0" textLength="17.55" lengthAdjust="spacingAndGlyphs">ASQ</text>
<text transform="translate(221.07,31.60) rotate(30)" x="0.00" y="0" textLength="43.23" lengthAdjust="spacingAndGlyphs">SDS-CL-25</text>
<text transform="translate(252.72,31.60) rotate(30)" x="0.00" y="0" textLength="24.32" lengthAdjust="spacingAndGlyphs">HSDQ</text>
<text transform="translate(284.38,31.60) rotate(30)" x="0.00" y="0" textLength="18.84" lengthAdjust="spacingAndGlyphs">PSQI</text>
<text transform="translate(316.02,31.60) rotate(30)" x="0.00" y="0" textLength="17.16" lengthAdjust="spacingAndGlyphs">ISDI</text>
<text transform="translate(347.68,31.60) rotate(30)" x="0.00" y="0" textLength="24.09" lengthAdjust="spacingAndGlyphs">GSAQ</text>
<text transform="translate(379.32,31.60) rotate(30)" x="0.00" y="0" textLength="43.85" lengthAdjust="spacingAndGlyphs">SDS-CL-17</text>
<text transform="translate(410.97,31.60) rotate(30)" x="0.00" y="0" textLength="16.87" lengthAdjust="spacingAndGlyphs">SSC</text>
<text transform="translate(442.62,31.60) rotate(30)" x="0.00" y="0" textLength="24.30" lengthAdjust="spacingAndGlyphs">BNSQ</text>
<text transform="translate(474.27,31.60) rotate(30)" x="-2.44" y="0" textLength="18.76" lengthAdjust="spacingAndGlyphs">OSQ</text>
</g>
<rect x="509" y="29.3" width="21" height="452.2" fill="rgb(217,30,30)"/>
<g class="lb" font-size="9.0" fill="#4a5a78">
<text x="532" y="32.40">1</text>
<text x="532" y="91.20" textLength="13.25" lengthAdjust="spacingAndGlyphs">0.9</text>
<text x="532" y="150.01" textLength="13.25" lengthAdjust="spacingAndGlyphs">0.8</text>
<text x="532" y="208.81" textLength="13.25" lengthAdjust="spacingAndGlyphs">0.7</text>
<text x="532" y="267.61" textLength="13.25" lengthAdjust="spacingAndGlyphs">0.6</text>
<text x="532" y="326.42" textLength="13.25" lengthAdjust="spacingAndGlyphs">0.5</text>
<text x="532" y="385.22" textLength="13.25" lengthAdjust="spacingAndGlyphs">0.4</text>
<text x="532" y="444.03" textLength="13.25" lengthAdjust="spacingAndGlyphs">0.3</text>
</g>
</svg></body></html>
